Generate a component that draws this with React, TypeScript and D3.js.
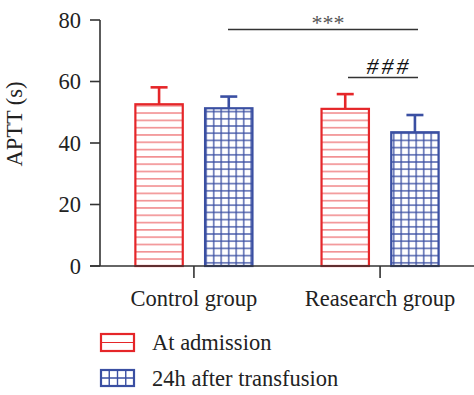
import React from "react";
import * as d3 from "d3";

const groups = ["Control group", "Reasearch group"];
const seriesNames = ["At admission", "24h after transfusion"];
const means = [
  [52.6, 51.3],
  [51.1, 43.5],
];
const errors = [
  [5.5, 3.8],
  [4.8, 5.6],
];
const yTicks = [0, 20, 40, 60, 80];

const RED = "#e52629";
const BLUE = "#3a4fa2";
const AXIS = "#333";
const FONT = "'Liberation Serif', 'DejaVu Serif', serif";
const FS = 22.5;

export default function App() {
  const width = 474;
  const height = 395;

  const y = d3.scaleLinear().domain([0, 80]).range([266, 20]);
  const x0 = d3.scaleBand().domain(groups).range([100, 474]).paddingInner(0.371).paddingOuter(0.19);
  const x1 = d3.scaleBand().domain(seriesNames).range([0, x0.bandwidth()]).paddingInner(0.32);

  const colors = [RED, BLUE];
  const fills = ["url(#hlines)", "url(#grid)"];

  return (
    <svg width={width} height={height} style={{ position: "absolute", left: 0, top: 0, background: "#fff" }}>
      <defs>
        <pattern id="hlines" patternUnits="userSpaceOnUse" width="8" height="7.3">
          <rect width="8" height="7.3" fill="#fff" />
          <line x1="0" x2="8" y1="3.6" y2="3.6" stroke={RED} strokeWidth="1" opacity="0.85" />
        </pattern>
        <pattern id="grid" patternUnits="userSpaceOnUse" width="7.5" height="7.2">
          <rect width="7.5" height="7.2" fill="#fff" />
          <line x1="0" x2="7.5" y1="3.6" y2="3.6" stroke={BLUE} strokeWidth="1.3" />
          <line x1="3.7" x2="3.7" y1="0" y2="7.2" stroke={BLUE} strokeWidth="1.3" />
        </pattern>
      </defs>

      {/* bars */}
      {groups.map((g, gi) =>
        seriesNames.map((s, si) => {
          const bx = (x0(g) as number) + (x1(s) as number);
          const bw = x1.bandwidth();
          const v = means[gi][si];
          const top = y(v);
          const et = y(v + errors[gi][si]);
          const cx = bx + bw / 2;
          return (
            <g key={g + s}>
              <line x1={cx} x2={cx} y1={top} y2={et} stroke={colors[si]} strokeWidth={2.6} />
              <line x1={cx - 8.5} x2={cx + 8.5} y1={et} y2={et} stroke={colors[si]} strokeWidth={2.6} />
              <rect x={bx} y={top} width={bw} height={y(0) - top} fill={fills[si]} stroke={colors[si]} strokeWidth={2.2} />
            </g>
          );
        })
      )}

      {/* y axis */}
      <line x1={100} x2={100} y1={y(80)} y2={y(0)} stroke={AXIS} strokeWidth={1.6} />
      {yTicks.map((t) => (
        <g key={t}>
          <line x1={90} x2={100} y1={y(t)} y2={y(t)} stroke={AXIS} strokeWidth={1.6} />
          <text x={81} y={y(t)} dy="0.34em" textAnchor="end" fontFamily={FONT} fontSize={FS} fill="#222">
            {t}
          </text>
        </g>
      ))}
      <text
        transform={`translate(22, 124) rotate(-90)`}
        textAnchor="middle"
        fontFamily={FONT}
        fontSize={FS}
        fill="#222"
      >
        APTT (s)
      </text>

      {/* x axis */}
      <line x1={90} x2={474} y1={y(0)} y2={y(0)} stroke={AXIS} strokeWidth={1.6} />
      {groups.map((g) => {
        const cx = (x0(g) as number) + x0.bandwidth() / 2;
        return (
          <g key={g}>
            <line x1={cx} x2={cx} y1={y(0)} y2={y(0) + 12} stroke={AXIS} strokeWidth={1.6} />
            <text x={cx} y={306} textAnchor="middle" fontFamily={FONT} fontSize={FS} fill="#222">
              {g}
            </text>
          </g>
        );
      })}

      {/* significance */}
      <line x1={228} x2={418} y1={29.5} y2={29.5} stroke={AXIS} strokeWidth={1.3} />
      <text x={328} y={30} textAnchor="middle" fontFamily={FONT} fontSize={22} fill="#555">
        ***
      </text>
      <line x1={348} x2={418} y1={77.5} y2={77.5} stroke={AXIS} strokeWidth={1.3} />
      <text x={389} y={74} textAnchor="middle" fontFamily={FONT} fontSize={24} fontStyle="italic" letterSpacing={3} fill="#111">
        ###
      </text>

      {/* legend */}
      <rect x={101} y={334} width={33} height={17} fill="#fff" stroke={RED} strokeWidth={2.2} />
      <line x1={101} x2={134} y1={342.5} y2={342.5} stroke={RED} strokeWidth={1.2} />
      <rect x={101} y={370} width={33} height={16} fill="#fff" stroke={BLUE} strokeWidth={2.2} />
      <line x1={101} x2={134} y1={378} y2={378} stroke={BLUE} strokeWidth={1.4} />
      {[109.25, 117.5, 125.75].map((lx) => (
        <line key={lx} x1={lx} x2={lx} y1={370} y2={386} stroke={BLUE} strokeWidth={1.4} />
      ))}
      <text x={152} y={350} fontFamily={FONT} fontSize={FS} fill="#222">
        {seriesNames[0]}
      </text>
      <text x={152} y={386} fontFamily={FONT} fontSize={FS} fill="#222">
        {seriesNames[1]}
      </text>
    </svg>
  );
}
